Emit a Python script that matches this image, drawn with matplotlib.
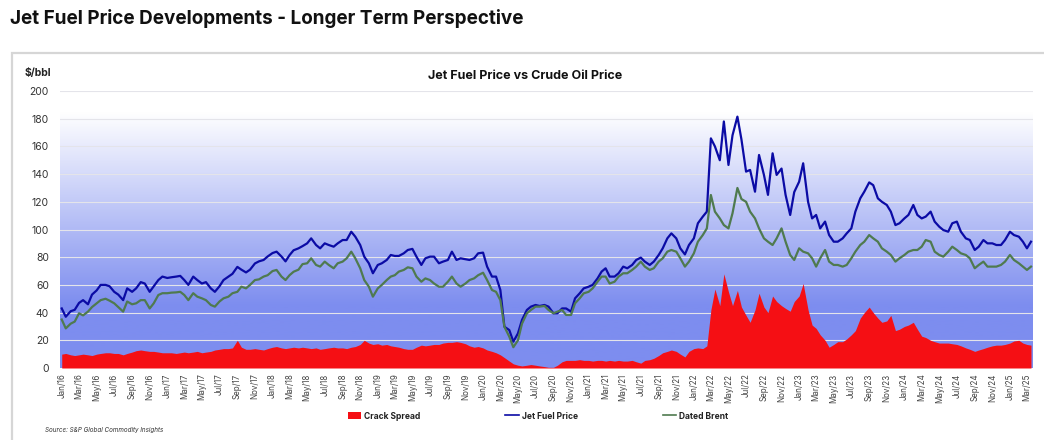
import numpy as np
import pandas as pd
import matplotlib
matplotlib.use("Agg")
import matplotlib.pyplot as plt
import matplotlib.dates as mdates
from matplotlib.patches import Rectangle, Patch
from matplotlib.lines import Line2D
from matplotlib.colors import to_rgb

plt.rcParams['font.family'] = ['Inter', 'DejaVu Sans']

# semi-monthly readings (1st and 15th of each month), Jan 2016 .. Mar 2025
jet_fuel = [
    # 2016
    43, 37, 41, 42, 47, 49, 46, 53, 56, 60, 60, 59, 55, 53, 49, 57.5, 55, 57.5, 62, 61, 55, 59, 63.5, 66,
    # 2017
    65, 65.5, 66, 66.5, 63.5, 60, 66, 63.5, 61, 62, 57.5, 55, 59, 63.5, 66, 68, 73, 71, 69, 71, 75.5, 77, 78, 80.5,
    # 2018
    83, 84, 80.5, 77, 81.5, 85, 86.4, 88, 90, 93.6, 88.8, 86.4, 90, 88.8, 87.6, 90, 92.4, 92.4, 98.4, 94.8, 88.8, 80.4, 75.6, 68.4,
    # 2019
    74.4, 75.6, 78, 81.6, 80.9, 80.9, 82.8, 85.2, 86, 80.4, 74.4, 79.2, 80.4, 80.4, 75.6, 76.8, 78, 84, 78, 79.2, 78.5, 78, 79.2, 82.8,
    # 2020
    83.3, 73.2, 66, 66, 56.3, 29.8, 27.4, 19, 25, 34.7, 41.9, 44.3, 45.5, 44.8, 45.5, 44.3, 39.5, 39.5, 43, 43, 40.7, 50.3, 53.9, 57.5,
    # 2021
    58.7, 60, 64.7, 69.6, 72, 66, 66, 68.4, 73.2, 72, 74.4, 78, 79.7, 76.8, 74.4, 76.8, 81.6, 86.4, 93.6, 97.2, 93.6, 86.4, 82, 88.8,
    # 2022
    93.6, 104.5, 109.3, 112.9, 165.8, 160, 150, 178, 146.6, 168, 181.5, 165, 141.8, 143, 127.3, 153.8, 139.4, 125, 155, 139.4, 144, 125, 110.5, 127,
    # 2023
    134.5, 147.8, 120, 108, 110.5, 100.8, 105.7, 96, 91.2, 91.2, 93.6, 97.2, 100.8, 112.9, 122.5, 127.3, 134, 132, 122.5, 120, 117.7, 112.9, 103.2, 104.5,
    # 2024
    108, 110.5, 117.7, 110.5, 108, 109.3, 112.9, 105.7, 102, 99.6, 98.4, 104.5, 105.7, 98.4, 93.6, 92.4, 85.2, 87.6, 92.4, 90, 90, 88.8, 88.8, 92.4,
    # 2025
    98.4, 96, 94.8, 91.2, 86.4, 91.2,
]

dated_brent = [
    # 2016
    35, 28.6, 32, 33.5, 39.5, 38, 40.7, 44, 46.7, 49, 50, 48.6, 46.7, 44, 40.7, 48, 46, 46.7, 49, 49, 43, 46.7, 52.7, 54,
    # 2017
    54, 54.4, 54.6, 55, 52.7, 49, 54, 51.5, 50.3, 49, 45.5, 44.3, 48, 50.3, 51.5, 54, 55, 58.7, 57.5, 60, 63.5, 64, 66, 67,
    # 2018
    70, 70.8, 66, 63.5, 67, 69.5, 71, 75, 75.6, 79.2, 74.4, 73.2, 76.8, 74.4, 72, 75.6, 76.8, 79.2, 84, 79.2, 72, 63.5, 58.7, 51.5,
    # 2019
    57.5, 60, 63.5, 66, 67, 69.6, 70.8, 72.7, 72, 66, 62.3, 64.7, 63.5, 61, 58.7, 58.7, 62.3, 66, 61, 58.7, 61, 63.5, 64.7, 67,
    # 2020
    68.8, 63.5, 56.3, 55, 49, 29.8, 22.6, 15, 20, 32, 39.5, 41.9, 44.3, 44.3, 44.8, 41.9, 39.5, 40.7, 41.9, 38.3, 38.3, 46.7, 50.3, 53.9,
    # 2021
    55, 57.5, 62.3, 66, 66, 61, 62.3, 66, 68.4, 68.4, 70.8, 73.2, 76.8, 73.2, 70.8, 72, 76.8, 79.2, 84, 85.2, 84, 79.2, 73.2, 76.8,
    # 2022
    82.8, 91.2, 96, 100.8, 124.9, 112.9, 108, 103.2, 100.8, 111.7, 130, 122, 120, 112.9, 108, 100.8, 93.6, 91.2, 88.8, 93.6, 100.8, 91.2, 81.6, 78,
    # 2023
    86.4, 84, 82.8, 79.2, 73.2, 79.2, 85.2, 76.8, 74.4, 74.4, 73.2, 74.4, 79.2, 84, 88.8, 91.2, 96, 93.6, 91.2, 86.4, 84, 81.6, 76.8, 79.2,
    # 2024
    81.6, 84, 85.2, 85.2, 87.6, 92.4, 91.2, 84, 81.6, 80.4, 84, 87.6, 85.2, 82.8, 81.6, 79.2, 72, 74.4, 76.8, 73.2, 73.2, 73.2, 74.4, 76.8,
    # 2025
    81.6, 78, 75.6, 73.2, 70.8, 73.2,
]

crack_spread = [
    # 2016
    10, 10.5, 9.5, 9, 9.5, 10, 9.5, 9, 10, 10.5, 11, 11, 10.5, 10.5, 9.5, 10.5, 11.5, 12.5, 13, 12.5, 12, 12, 11.5, 11,
    # 2017
    11, 11, 10.5, 11, 11.5, 11, 11.5, 12, 11, 11.5, 12, 13, 13.5, 14, 14, 14.5, 20, 15, 13.5, 13.5, 14, 13.5, 13, 14,
    # 2018
    15, 15.5, 14.5, 14, 14.5, 15, 14.5, 15, 14.5, 14, 14.5, 13.5, 14, 14.5, 15, 14.5, 14.5, 14, 15, 15.5, 17, 20, 18, 17,
    # 2019
    17.5, 16.5, 17, 16, 15.5, 15, 14, 13.5, 13.5, 15, 16.5, 16, 16.5, 17, 17, 18, 18.5, 18.5, 19, 18.5, 17.5, 16, 15, 15.5,
    # 2020
    14.5, 13, 12, 11, 9.5, 7.5, 5, 3, 2, 1.5, 2, 2.5, 2, 1.5, 1, 0.5, 0.5, 2, 4.5, 5.5, 5.5, 5.5, 6, 5.5,
    # 2021
    5.5, 5, 5.5, 5.5, 5, 5.5, 5, 5.5, 5, 5, 5.5, 4.5, 3.5, 5.5, 6, 7, 9, 11, 12, 13, 12, 10, 8, 12,
    # 2022
    14, 14.5, 14, 16, 42, 57, 45, 68, 55, 45, 56, 44, 38, 33, 42, 54, 44, 40, 52, 48, 45, 43, 41, 48,
    # 2023
    52, 61, 42, 31, 28.6, 24, 20, 15, 17, 19, 19, 21, 24, 27, 36, 40, 44, 40, 36, 33, 34, 38, 27, 28,
    # 2024
    30, 31, 33, 28, 23, 22, 20, 19, 18, 18, 18, 17.5, 17, 16, 14.5, 13.5, 12, 13, 14, 15, 16, 16.5, 16.5, 17,
    # 2025
    18, 19.5, 20, 18, 17, 16.5,
]

dates = pd.date_range('2016-01-01', periods=len(jet_fuel), freq='SMS')

W, H = 1044, 440
fig = plt.figure(figsize=(W / 100, H / 100), dpi=100)

# card frame
fig.patches.append(Rectangle((12 / W, -0.05), 1.1, 1 - 53 / H + 0.05, transform=fig.transFigure,
                             fill=False, edgecolor='#d6d6d6', lw=1.6))

fig.text(10 / W, 1 - 18 / H, 'Jet Fuel Price Developments - Longer Term Perspective',
         fontsize=13.6, fontweight='bold', color='#111111', va='center', ha='left')
fig.text(25 / W, 1 - 73 / H, '$/bbl', fontsize=7.5, fontweight='bold', color='#222222', va='center')
fig.text(525 / W, 1 - 76 / H, 'Jet Fuel Price vs Crude Oil Price', fontsize=9,
         fontweight='bold', color='#111111', ha='center', va='center')
fig.text(45 / W, 1 - 430 / H, 'Source: S&P Global Commodity Insights', fontsize=4.5,
         style='italic', color='#333333', va='center')

ax = fig.add_axes([60 / W, 1 - 368 / H, (1033 - 60) / W, (368 - 91) / H])

x0 = mdates.date2num(pd.Timestamp('2015-12-26'))
x1 = mdates.date2num(pd.Timestamp('2025-03-22'))

# background gradient: white at the top, blue at the bottom
vals = np.linspace(200, 0, 300)
t = np.clip((185 - vals) / (185 - 45), 0, 1)[:, None]
top = np.array(to_rgb('#ffffff'))
bot = np.array(to_rgb('#7d8def'))
grad = (top * (1 - t) + bot * t)[:, None, :]
ax.imshow(grad, extent=[x0, x1, 0, 200], aspect='auto', zorder=0, interpolation='bilinear')

for v in range(20, 201, 20):
    ax.axhline(v, color='#e4e4ea', lw=0.8, zorder=1)

ax.fill_between(dates, 0, crack_spread, color='#f50f14', lw=0, zorder=2)
ax.plot(dates, jet_fuel, color='#0b0ba5', lw=1.6, zorder=3)
ax.plot(dates, dated_brent, color='#4f7a4f', lw=1.6, zorder=3)

ax.set_xlim(x0, x1)
ax.set_ylim(0, 200)
ax.set_yticks(range(0, 201, 20))
ax.tick_params(axis='y', length=0, labelsize=7.5, labelcolor='#333333', pad=8)
ax.xaxis.set_major_locator(mdates.MonthLocator(bymonth=[1, 3, 5, 7, 9, 11]))
ax.xaxis.set_major_formatter(plt.FuncFormatter(lambda d, p: mdates.num2date(d).strftime('%b/%y')))
ax.tick_params(axis='x', length=0, labelsize=5.8, labelcolor='#444444', rotation=90, pad=4)
for s in ax.spines.values():
    s.set_visible(False)

handles = [Patch(facecolor='#f50f14', edgecolor='none'),
           Line2D([], [], color='#0b0ba5', lw=1.2),
           Line2D([], [], color='#4f7a4f', lw=1.2)]
labels = ['Crack Spread', 'Jet Fuel Price', 'Dated Brent']
leg = fig.legend(handles, labels, loc='center', bbox_to_anchor=(538 / W, 1 - 416 / H), ncol=3,
                 frameon=False, fontsize=6.1, handlelength=1.6, handleheight=0.75,
                 columnspacing=10, handletextpad=0.35)
for txt in leg.get_texts():
    txt.set_fontweight('bold')
    txt.set_color('#222222')

fig.savefig('out.png', dpi=100)
